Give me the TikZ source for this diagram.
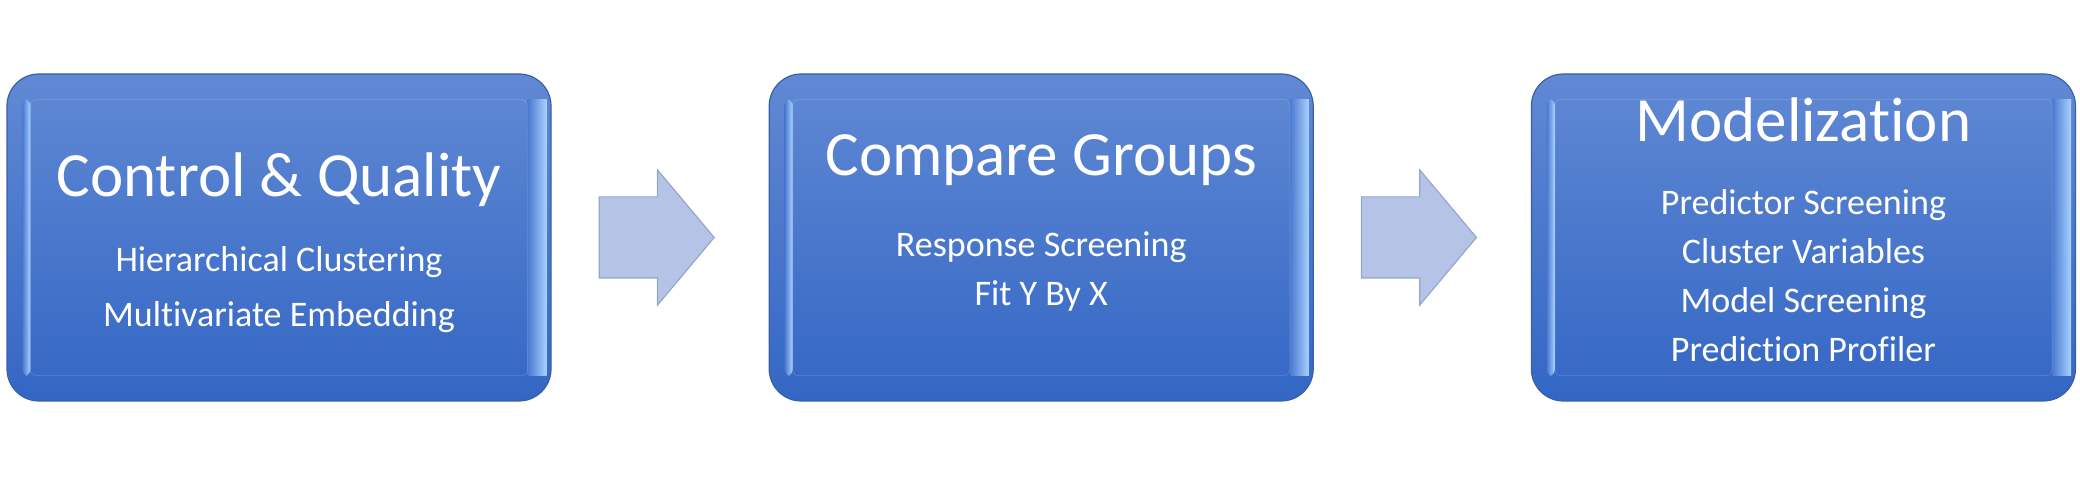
\documentclass[tikz,border=0pt]{standalone}
\usepackage{fontspec}
\setmainfont{Carlito}[Ligatures=NoCommon]
\usetikzlibrary{shapes, positioning}
\definecolor{boxtop}{HTML}{6189D4}
\definecolor{boxmid}{HTML}{4A78D0}
\definecolor{boxbot}{HTML}{3366C4}
\definecolor{boxedge}{HTML}{3A5FA8}
\definecolor{glint}{HTML}{A8D2FF}
\definecolor{arrowfill}{HTML}{B5C3E6}
\definecolor{arrowedge}{HTML}{98A6CB}
\tikzstyle{block} = [draw=boxedge, top color=boxtop, bottom color=boxbot, rectangle, rounded corners=16pt, minimum width=272pt, minimum height=163.5pt, line width=0.6pt]
\tikzstyle{fat} = [single arrow, draw=arrowedge, fill=arrowfill, line width=0.6pt, minimum height=57.5pt, minimum width=67pt, inner xsep=0pt, inner ysep=20pt, single arrow head extend=13.5pt, single arrow tip angle=100]
\tikzstyle{txt} = [text=white, align=center, inner sep=0pt, font=\fontsize{18}{27.5}\selectfont]
\tikzstyle{tight} = [font=\fontsize{18}{24.5}\selectfont]
\newcommand{\head}[1]{{\fontsize{31.5}{36}\selectfont #1}}

\begin{document}
\begin{tikzpicture}[node distance=108.5pt]
    \useasboundingbox (0,0) rectangle (1040pt,240.5pt);
    \node [block] (ctrl) at (139.5pt,121.75pt) {};
    \node [block, right=of ctrl] (cmp) {};
    \node [block, right=of cmp] (model) {};
    % bevel on the sides of each box
    \foreach \b in {ctrl, cmp, model} {
        \shade [left color=boxmid, right color=glint, rounded corners=3pt] ([xshift=8pt,yshift=-13pt]\b.north west) rectangle ([xshift=12pt,yshift=13pt]\b.south west);
        \shade [left color=boxmid, right color=glint] ([xshift=-12pt,yshift=-13pt]\b.north east) rectangle ([xshift=-2.5pt,yshift=13pt]\b.south east);
        \draw [white, opacity=0.12, line width=0.5pt, rounded corners=3pt] ([xshift=12pt,yshift=-13pt]\b.north west) rectangle ([xshift=-12pt,yshift=13pt]\b.south east);
    }
    \node [fat, right=23.5pt of ctrl] (step1) {};
    \node [fat, right=23.5pt of cmp] (step2) {};
    \node [txt, below=39.5pt of ctrl.north] (ctrltxt) {\head{Control \& Quality}\\[10pt] Hierarchical Clustering\\ Multivariate Embedding};
    \node [txt, tight, below=30.5pt of cmp.north] (cmptxt) {\head{Compare Groups}\\[16pt] Response Screening\\ Fit Y By X};
    \node [txt, tight, below=12pt of model.north] (modeltxt) {\head{Modelization}\\[12pt] Predictor Screening\\ Cluster Variables\\ Model Screening\\ Prediction Profiler};
\end{tikzpicture}
\end{document}
